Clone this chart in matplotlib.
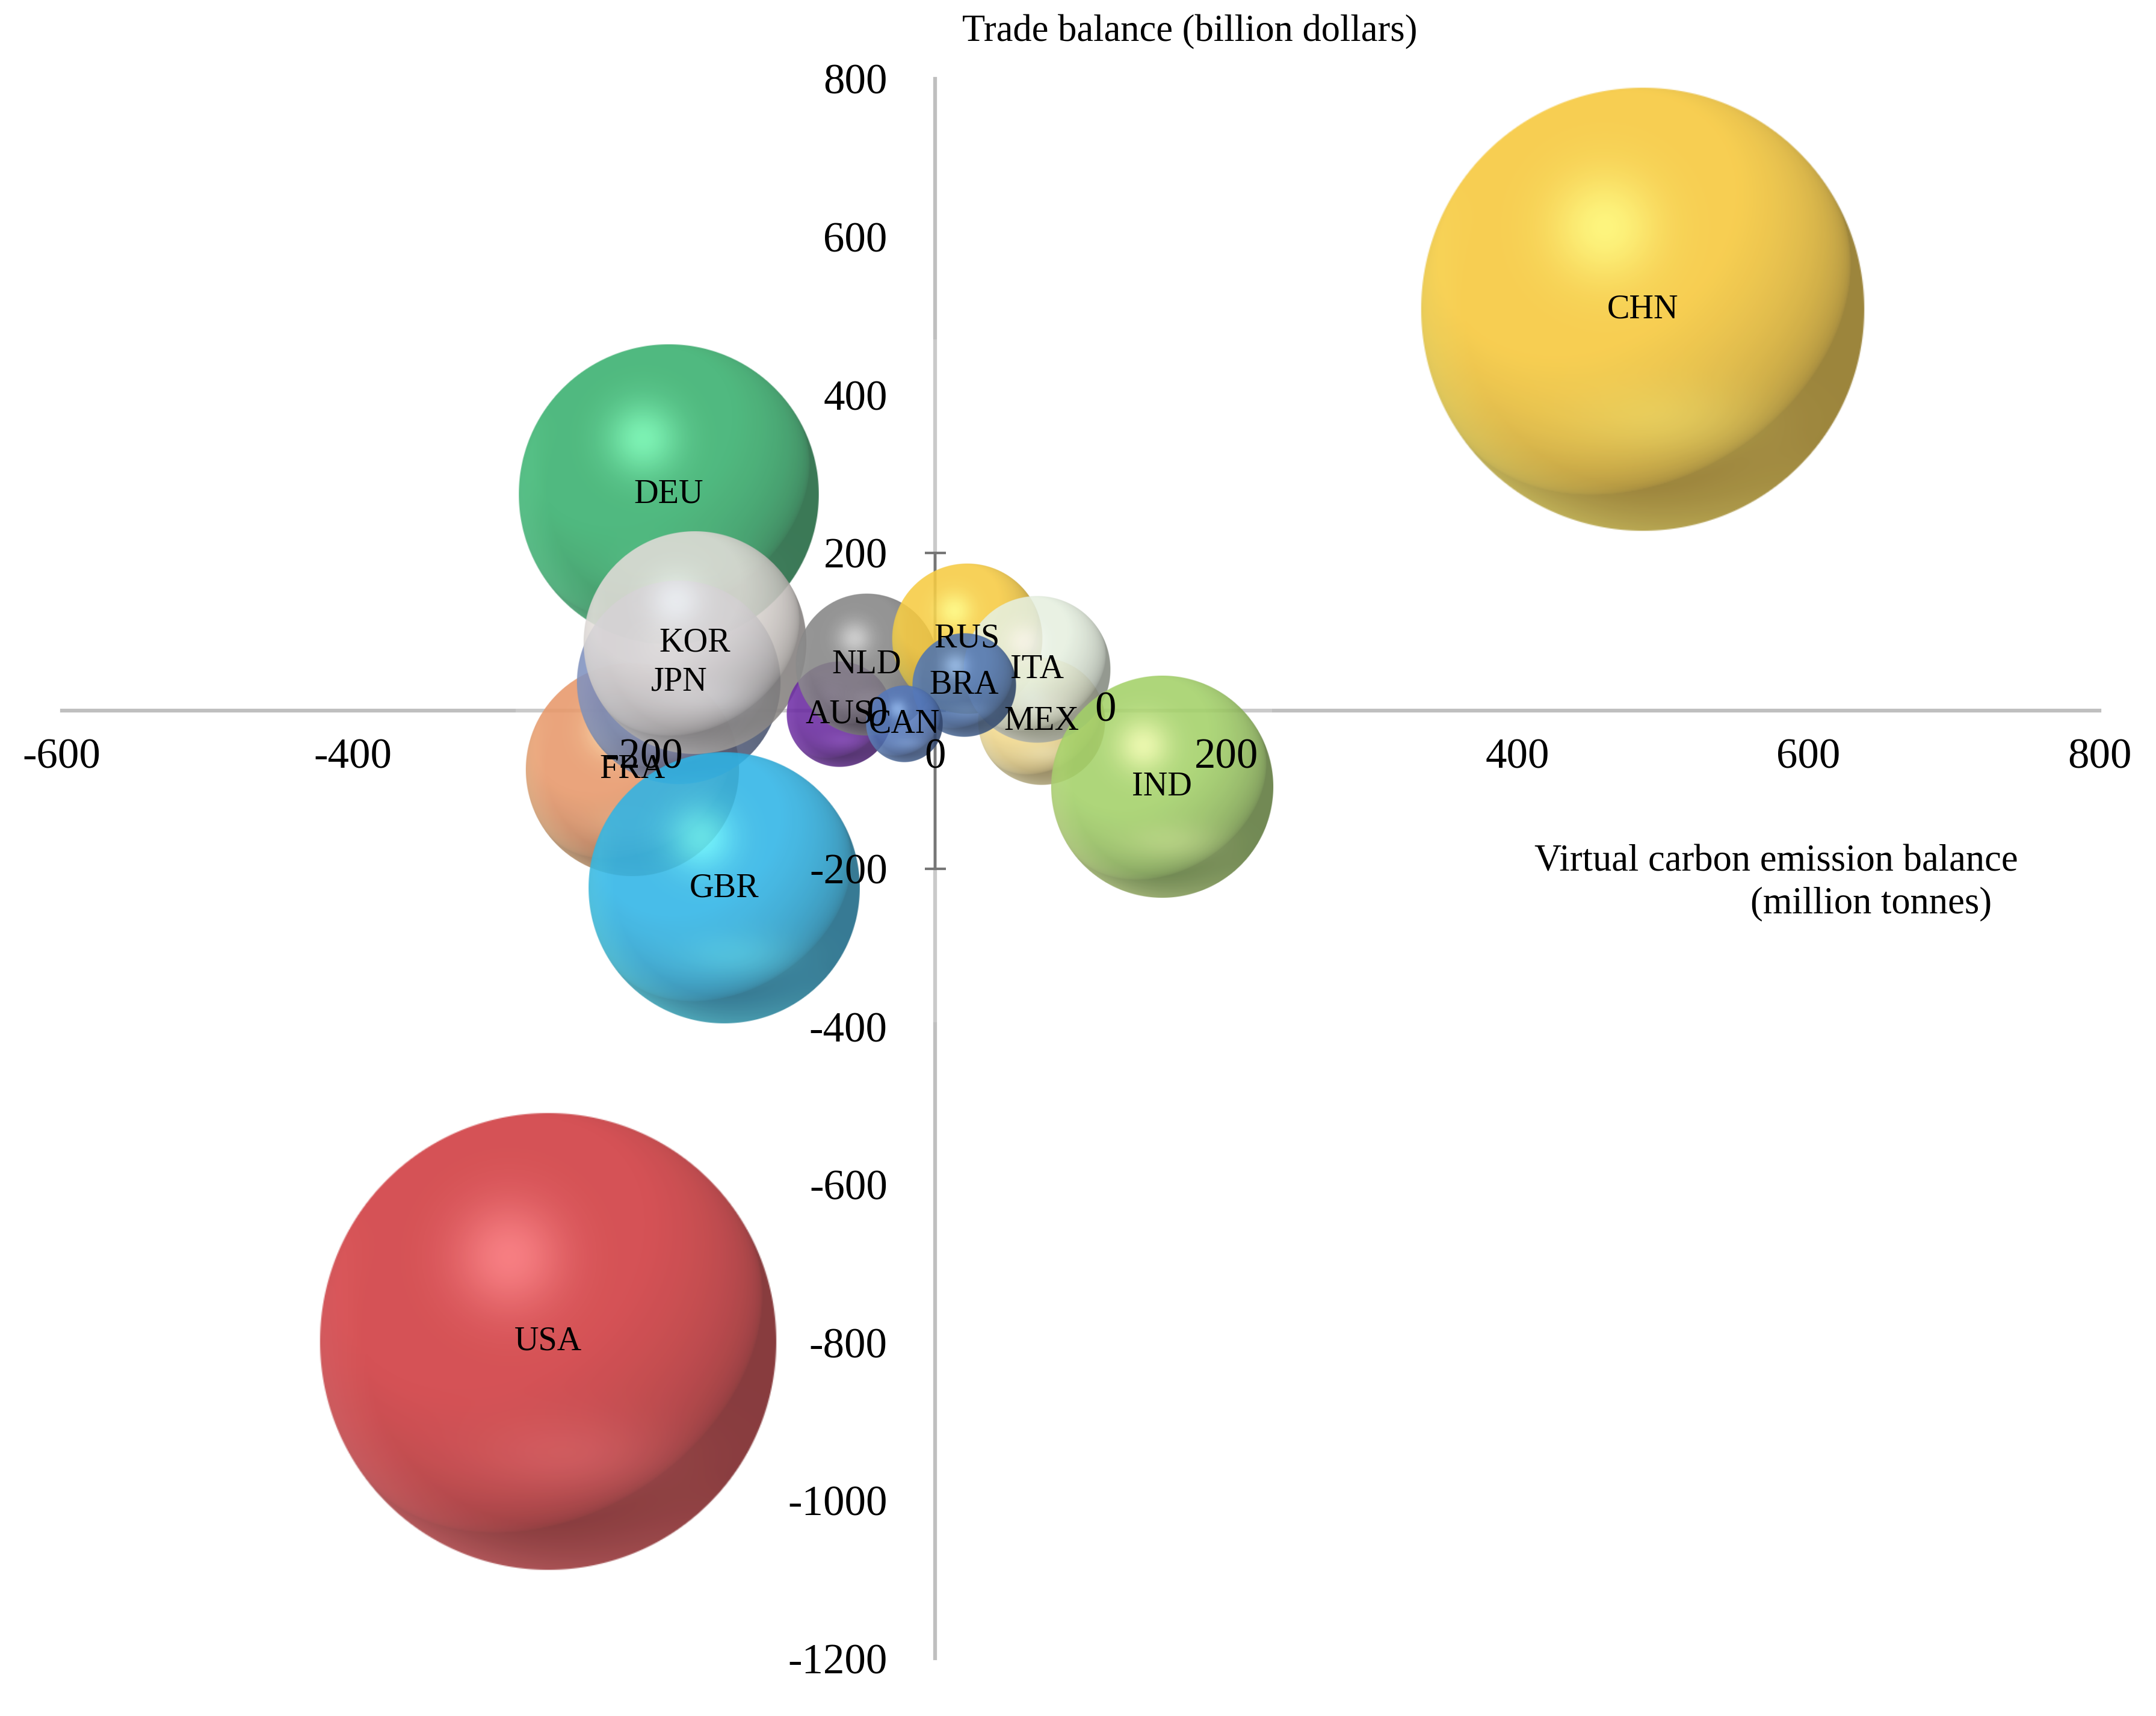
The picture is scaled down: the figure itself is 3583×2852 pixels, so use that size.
import numpy as np
import matplotlib
matplotlib.use("Agg")
import matplotlib.pyplot as plt
from matplotlib.colors import to_rgb
from matplotlib.patches import Rectangle

plt.rcParams['font.family'] = ['Liberation Serif', 'DejaVu Serif']
plt.rcParams['axes.unicode_minus'] = False

# data, in drawing order (bottom to top)
countries = ["DEU", "FRA", "JPN", "KOR", "GBR", "USA", "CHN", "AUS",
             "NLD", "RUS", "MEX", "ITA", "BRA", "CAN", "IND"]
carbon_balance = [-183, -208, -176, -165, -145, -266, 486, -66,
                  -47, 22, 73, 70, 20, -21, 156]
trade_balance = [274, -75, 36, 86, -225, -799, 508, -5,
                 58, 91, -14, 52, 32, -17, -97]
bubble_size = [431, 218, 199, 238, 352, 1000, 943, 53,
               96, 108, 77, 103, 51, 28, 236]
bubble_colors = ["#38B06E", "#E8986A", "#7A8CBC", "#E2DCD8", "#2FB4E6",
                 "#D03A3E", "#F7C83A", "#6A2AA0", "#858585", "#F7CB42",
                 "#F5DC8F", "#E6F0E0", "#4F74B0", "#5578BA", "#A3D168"]

x_ticks = [-600, -400, -200, 0, 200, 400, 600, 800]
y_ticks = [800, 600, 400, 200, 0, -200, -400, -600, -800, -1000, -1200]
inner_ticks = [-200, 0, 200]


def sphere_image(color, n=400, opacity=0.88):
    t = np.linspace(-1, 1, n)
    u, v = np.meshgrid(t, t)
    r = np.sqrt(u ** 2 + v ** 2)
    nz = np.sqrt(np.clip(1 - r ** 2, 0, 1))
    light = np.array([-0.35, 0.55, 0.76])
    light = light / np.linalg.norm(light)
    lam = np.clip(u * light[0] + v * light[1] + nz * light[2], 0, 1)
    base = np.array(to_rgb(color))
    rgb = base[None, None, :] * np.clip(0.58 + 0.5 * np.sqrt(lam), 0, 1)[..., None]
    target = np.clip(base * 1.2 + 0.2, 0, 1)
    hl = np.exp(-((u + 0.17) ** 2 + (v - 0.37) ** 2) / (2 * 0.17 ** 2))
    rgb = rgb + (target - rgb) * 0.8 * hl[..., None]
    refl = np.exp(-((u - 0.1) ** 2 / (2 * 0.3 ** 2) + (v + 0.5) ** 2 / (2 * 0.12 ** 2)))
    rgb = rgb + (target - rgb) * 0.25 * refl[..., None]
    rim = np.clip((r - 0.8) / 0.2, 0, 1) * np.clip(-(u * 0.6 + v * 0.8), 0, 1)
    rgb = rgb + (target - rgb) * 0.35 * rim[..., None]
    alpha = np.clip((1 - r) * n / 2, 0, 1) * opacity
    return np.dstack([np.clip(rgb, 0, 1), alpha])


fig = plt.figure(figsize=(3583 / 300, 2852 / 300), dpi=300)
ax = fig.add_axes([0, 0, 1, 1])
ax.set_xlim(-642.4, 838.8)
ax.set_ylim(-1273.1, 899.8)
ax.patch.set_visible(False)

for side in ['top', 'right']:
    ax.spines[side].set_visible(False)
ax.spines['left'].set_position(('data', 0))
ax.spines['bottom'].set_position(('data', 0))
ax.spines['left'].set_bounds(-1200, 800)
ax.spines['bottom'].set_bounds(-600, 800)
for side in ['left', 'bottom']:
    ax.spines[side].set_color('#BFBFBF')
    ax.spines[side].set_linewidth(1.5)

ax.set_xticks(x_ticks)
ax.set_xticklabels([str(t) for t in x_ticks])
ax.set_yticks(y_ticks)
ax.set_yticklabels([str(t) for t in y_ticks])
ax.tick_params(axis='x', length=0, pad=11, labelsize=17)
ax.tick_params(axis='y', length=0, pad=19, labelsize=17)
ax.xaxis.set_zorder(60)
ax.yaxis.set_zorder(60)

# inner (secondary) axis remains
ax.plot([0, 0], [min(inner_ticks), max(inner_ticks)], color='#595959', lw=1.0, zorder=2.6)
ax.plot([0] * len(inner_ticks), inner_ticks, ls='none', marker='_', ms=8.4,
        mew=1.0, color='#595959', zorder=2.6)
ax.add_patch(Rectangle((-288, -395), 519.5, 865, facecolor='white', alpha=0.18,
                       edgecolor='none', zorder=2.7))
ax.text(117, 0, "0", fontsize=17, ha='center', va='center', zorder=60)

# bubbles
p0 = ax.transData.transform((0, 0))
p1 = ax.transData.transform((1, 1))
px_x = p1[0] - p0[0]
px_y = p1[1] - p0[1]
r_max_px = 381
max_size = max(bubble_size)
for i, (name, x, y, s, c) in enumerate(zip(countries, carbon_balance, trade_balance,
                                             bubble_size, bubble_colors)):
    r_px = r_max_px * np.sqrt(s / max_size)
    dx = r_px / px_x
    dy = r_px / px_y
    ax.imshow(sphere_image(c), extent=(x - dx, x + dx, y - dy, y + dy), origin='lower',
              aspect='auto', interpolation='bilinear', zorder=3 + i * 0.1)
    ax.text(x, y, name, fontsize=13.5, ha='center', va='center', zorder=50)

ax.set_xlim(-642.4, 838.8)
ax.set_ylim(-1273.1, 899.8)

ax.text(175, 848, "Trade balance (billion dollars)", fontsize=15, ha='center',
        va='baseline', zorder=60)
ax.text(578, -203, "Virtual carbon emission balance", fontsize=15, ha='center',
        va='baseline', zorder=60)
ax.text(643, -256, "(million tonnes)", fontsize=15, ha='center', va='baseline', zorder=60)

fig.savefig("out.png", dpi=300, facecolor='white')
